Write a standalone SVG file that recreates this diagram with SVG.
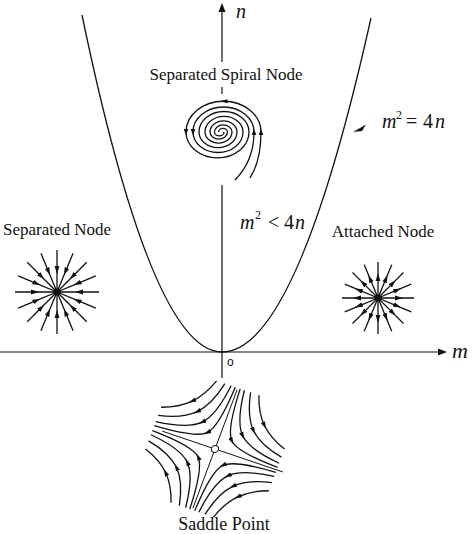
<svg xmlns="http://www.w3.org/2000/svg" width="474" height="534" viewBox="0 0 474 534">
<style>
.ln{fill:none;stroke:#111;stroke-width:1.2}
.cv{fill:none;stroke:#111;stroke-width:1.3;vector-effect:non-scaling-stroke}
.lbl{font-family:"Liberation Serif","Times New Roman",serif;font-size:17px;fill:#111}
.math{font-family:"Liberation Serif","Times New Roman",serif;font-size:20px;fill:#111}
.it{font-style:italic}
</style>
<defs>
<marker id="ar" viewBox="0 0 10 10" refX="5" refY="5" markerWidth="8" markerHeight="8" orient="auto" markerUnits="userSpaceOnUse"><path d="M0,2 L10,5 L0,8 z" fill="#111"/></marker>
<path id="rin" d="M42,0 L22,0 L0,0" class="cv" marker-mid="url(#ar)"/>
<path id="rout" d="M0,0 L21,0 L36,0" class="cv" marker-mid="url(#ar)"/>
<g id="v2u">
<path class="cv" marker-mid="url(#ar)" d="M2.8,70 Q4.67,23.33 14,14 Q23.33,4.67 70,2.8"/>
<path class="cv" marker-mid="url(#ar)" d="M7.56,70 Q11.38,34.62 23,23 Q34.62,11.38 70,7.56"/>
<path class="cv" marker-mid="url(#ar)" d="M14.63,70 Q20.08,43.92 32,32 Q43.92,20.08 70,14.63"/>
<path class="cv" marker-mid="url(#ar)" d="M24.01,70 Q30.29,51.71 41,41 Q51.71,30.29 70,24.01"/>
</g>
<g id="u2v">
<path class="cv" marker-mid="url(#ar)" d="M70,2.8 Q23.33,4.67 14,14 Q4.67,23.33 2.8,70"/>
<path class="cv" marker-mid="url(#ar)" d="M70,7.56 Q34.62,11.38 23,23 Q11.38,34.62 7.56,70"/>
<path class="cv" marker-mid="url(#ar)" d="M70,14.63 Q43.92,20.08 32,32 Q20.08,43.92 14.63,70"/>
<path class="cv" marker-mid="url(#ar)" d="M70,24.01 Q51.71,30.29 41,41 Q30.29,51.71 24.01,70"/>
</g>
</defs>

<g id="axes">
<path class="ln" d="M0,352 H441"/>
<path d="M447,352 L438,348.5 L438,355.5 z" fill="#111"/>
<path class="ln" d="M222,9 V62 M222,87 V94 M222,185 V378"/>
<path d="M222,3 L218.5,12 L225.5,12 z" fill="#111"/>
<text class="math it" x="236" y="18">n</text>
<text class="math it" x="452" y="358" style="font-size:22px">m</text>
<text x="227" y="366" style="font-family:'Liberation Sans',Arial,sans-serif;font-size:12px;fill:#111">o</text>
</g>

<g id="parabola">
<path class="ln" d="M82,15 Q152,352 222,352 Q296.5,352 371,18" style="stroke-width:1.3"/>
<path d="M353,132 L366,124.5 L362,131 z" fill="#111"/>
<text class="math"><tspan class="it" x="382" y="128">m</tspan><tspan x="396" y="119" style="font-size:12px">2</tspan><tspan x="406" y="128">=</tspan><tspan x="423" y="128">4</tspan><tspan class="it" x="435" y="128">n</tspan></text>
<text class="math"><tspan class="it" x="240" y="229">m</tspan><tspan x="255" y="219" style="font-size:12px">2</tspan><tspan x="268" y="229">&lt;</tspan><tspan x="284" y="229">4</tspan><tspan class="it" x="295" y="229">n</tspan></text>
</g>

<g id="spiral-node">
<text class="lbl" x="226" y="80" text-anchor="middle">Separated Spiral Node</text>
<g transform="translate(221 132) scale(1 0.82)">
<path class="cv" marker-mid="url(#ar)" d="M29,56 Q40,35 40,0 A37.5,37.5 0 0 0 2.5,-37.5 A37.5,37.5 0 0 0 -35,0 A31.5,31.5 0 0 0 28,0"/>
<path class="cv" d="M28,0 A25,25 0 0 0 -22,0 A19,19 0 0 0 16,0 A13.5,13.5 0 0 0 -11,0 A8.75,8.75 0 0 0 6.5,0 A4.5,4.5 0 0 0 -2.5,0"/>
<path class="cv" marker-mid="url(#ar)" d="M14,58.5 Q33,35 33,0 A30.5,30.5 0 0 0 -28,0 A25,25 0 0 0 22,0"/>
<path class="cv" d="M22,0 A19,19 0 0 0 -16,0 A13.5,13.5 0 0 0 11,0 A8.75,8.75 0 0 0 -6.5,0 A4.75,4.75 0 0 0 3,0"/>
</g>
</g>

<g id="separated-node">
<text class="lbl" x="57" y="235" text-anchor="middle">Separated Node</text>
<g transform="translate(57 292)">
<use href="#rin"/><use href="#rin" transform="rotate(22.5)"/><use href="#rin" transform="rotate(45)"/><use href="#rin" transform="rotate(67.5)"/>
<use href="#rin" transform="rotate(90)"/><use href="#rin" transform="rotate(112.5)"/><use href="#rin" transform="rotate(135)"/><use href="#rin" transform="rotate(157.5)"/>
<use href="#rin" transform="rotate(180)"/><use href="#rin" transform="rotate(202.5)"/><use href="#rin" transform="rotate(225)"/><use href="#rin" transform="rotate(247.5)"/>
<use href="#rin" transform="rotate(270)"/><use href="#rin" transform="rotate(292.5)"/><use href="#rin" transform="rotate(315)"/><use href="#rin" transform="rotate(337.5)"/>
<circle r="3.5" fill="#111"/>
</g>
</g>

<g id="attached-node">
<text class="lbl" x="383" y="237" text-anchor="middle">Attached Node</text>
<g transform="translate(378 298)">
<use href="#rout"/><use href="#rout" transform="rotate(22.5)"/><use href="#rout" transform="rotate(45)"/><use href="#rout" transform="rotate(67.5)"/>
<use href="#rout" transform="rotate(90)"/><use href="#rout" transform="rotate(112.5)"/><use href="#rout" transform="rotate(135)"/><use href="#rout" transform="rotate(157.5)"/>
<use href="#rout" transform="rotate(180)"/><use href="#rout" transform="rotate(202.5)"/><use href="#rout" transform="rotate(225)"/><use href="#rout" transform="rotate(247.5)"/>
<use href="#rout" transform="rotate(270)"/><use href="#rout" transform="rotate(292.5)"/><use href="#rout" transform="rotate(315)"/><use href="#rout" transform="rotate(337.5)"/>
<circle r="3.5" fill="#111"/>
</g>
</g>

<g id="saddle-point">
<text class="lbl" x="224" y="530" text-anchor="middle" style="font-size:18px">Saddle Point</text>
<g transform="matrix(0.881 0.298 0.325 -0.871 215 449)">
<path class="cv" d="M-60,0 L77,0 M0,68 L0,-68" style="stroke-width:1"/>
<use href="#v2u"/>
<use href="#v2u" transform="scale(-1 1)"/>
<use href="#u2v" transform="scale(1 -1)"/>
<use href="#v2u" transform="scale(-1 -1)"/>
<circle r="3.8" fill="#fff" stroke="#111" stroke-width="1"/>
</g>
</g>
</svg>
